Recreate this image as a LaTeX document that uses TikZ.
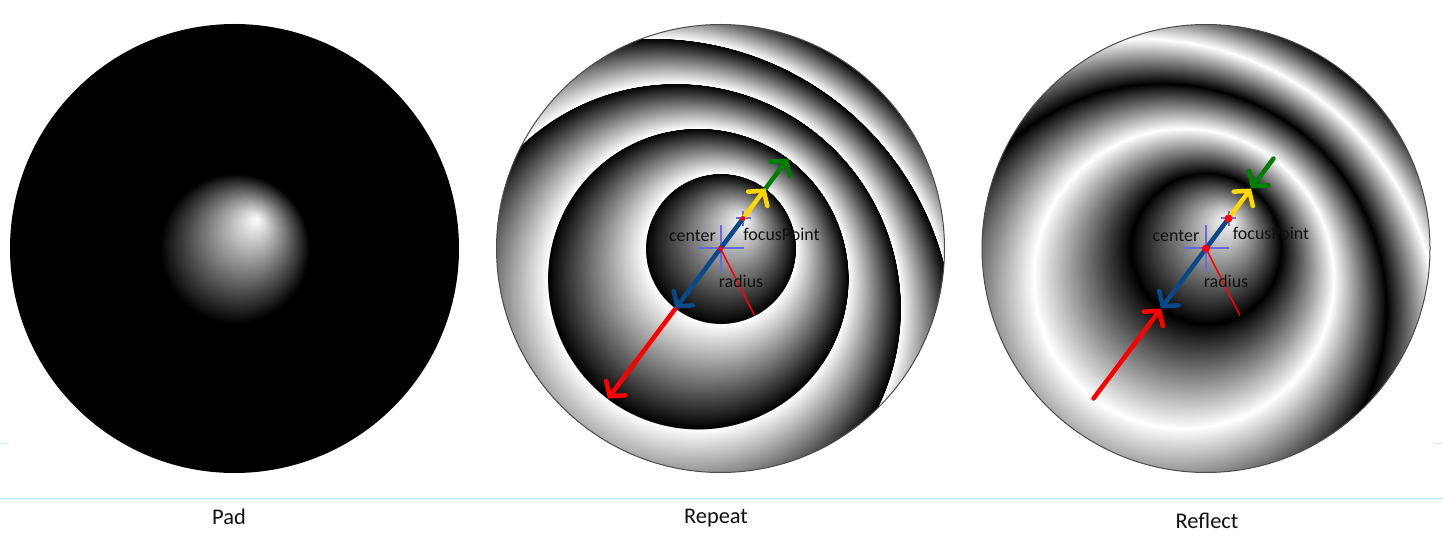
\documentclass[tikz,border=0pt]{standalone}
\usepackage{fontspec}
\setmainfont{Carlito}
\usetikzlibrary{calc,arrows.meta}

\definecolor{rayblue}{RGB}{10,72,140}
\definecolor{crossblue}{RGB}{105,105,225}
\definecolor{raygold}{RGB}{255,215,0}
\definecolor{raygreen}{RGB}{0,128,0}
\definecolor{rulecyan}{RGB}{178,226,248}
\definecolor{labeltext}{RGB}{17,17,17}

% focal gradients: radius 75bp, focus offset (22.5bp,30bp) from the centre
\pgfdeclareradialshading{padshade}{\pgfpoint{22.5bp}{30bp}}{color(0bp)=(white); color(75bp)=(black)}
\pgfdeclareradialshading{repeatshade}{\pgfpoint{135bp}{180bp}}{color(0bp)=(white); color(75bp)=(black);
  color(75.1bp)=(white); color(150bp)=(black); color(150.1bp)=(white); color(225bp)=(black);
  color(225.1bp)=(white); color(300bp)=(black); color(300.1bp)=(white); color(375bp)=(black);
  color(375.1bp)=(white); color(450bp)=(black)}
\pgfdeclareradialshading{reflectshade}{\pgfpoint{135bp}{180bp}}{color(0bp)=(white); color(75bp)=(black);
  color(150bp)=(white); color(225bp)=(black); color(300bp)=(white); color(375bp)=(black); color(450bp)=(white)}

\begin{document}
\begin{tikzpicture}[x=1bp,y=-1bp,
  every node/.style={text=labeltext, font=\fontsize{18}{20}\selectfont},
  caption/.style={font=\fontsize{22.5}{26}\selectfont},
  fillnode/.style={inner sep=0pt, outer sep=0pt},
  rim/.style={draw=black!70, line width=1bp},
  cross/.style={crossblue, line width=2bp},
  radiusline/.style={red, line width=1.5bp},
  ray/.style={line width=4.5bp, line cap=round, -{Straight Barb[length=10bp,width=24bp,line cap=round]}}]
  \useasboundingbox (0,0) rectangle (1443,544);

  % Pad
  \coordinate (c1) at (234.5,248.5);
  \fill[black] (c1) circle (224.5);
  \node[fillnode] (padfill) at (c1) {\pgfuseshading{padshade}};

  % Repeat
  \coordinate (c2) at (720.5,248.5);
  \coordinate (f2) at ($(c2)+(22.5,-30)$);
  \coordinate (a2) at ($(f2)!3!(c2)$);
  \coordinate (b2) at ($(f2)!6!(c2)$);
  \coordinate (u2) at ($(f2)!-1!(c2)$);
  \coordinate (v2) at ($(f2)!-2!(c2)$);
  \coordinate (r2) at ($(c2)+(34,67)$);
  \begin{scope}
    \clip (c2) circle (224);
    \node[fillnode] (repeatfill) at (b2) {\pgfuseshading{repeatshade}};
  \end{scope}
  \draw[rim] (c2) circle (224);
  \draw[cross] ($(c2)-(23,0)$) -- +(46,0) ($(c2)-(0,23)$) -- +(0,46);
  \draw[cross] ($(f2)-(7.5,0)$) -- +(15,0) ($(f2)-(0,7.5)$) -- +(0,15);
  \draw[radiusline] (c2) -- (r2);
  \node (center2) at ($(c2)+(-28,-13)$) {center};
  \node (focus2) at ($(c2)+(61,-14)$) {focusPoint};
  \node (radius2) at ($(c2)+(20.5,32.5)$) {radius};
  \draw[ray, red] (a2) -- (b2);
  \draw[ray, rayblue] (f2) -- (a2);
  \draw[ray, raygreen] (u2) -- (v2);
  \draw[ray, raygold] (f2) -- (u2);
  \fill[red] (c2) circle (2.5) (f2) circle (2.5);

  % Reflect
  \coordinate (c3) at (1206,248.5);
  \coordinate (f3) at ($(c3)+(22.5,-30)$);
  \coordinate (a3) at ($(f3)!3!(c3)$);
  \coordinate (b3) at ($(f3)!6!(c3)$);
  \coordinate (u3) at ($(f3)!-1!(c3)$);
  \coordinate (v3) at ($(f3)!-2!(c3)$);
  \coordinate (r3) at ($(c3)+(34,67)$);
  \begin{scope}
    \clip (c3) circle (224);
    \node[fillnode] (reflectfill) at (b3) {\pgfuseshading{reflectshade}};
  \end{scope}
  \draw[rim] (c3) circle (224);
  \draw[cross] ($(c3)-(23,0)$) -- +(46,0) ($(c3)-(0,23)$) -- +(0,46);
  \draw[cross] ($(f3)-(7.5,0)$) -- +(15,0) ($(f3)-(0,7.5)$) -- +(0,15);
  \draw[radiusline] (c3) -- (r3);
  \node (center3) at ($(c3)+(-30,-12.5)$) {center};
  \node (focus3) at ($(c3)+(65,-15)$) {focusPoint};
  \node (radius3) at ($(c3)+(20,32.5)$) {radius};
  \draw[ray, red] (b3) -- (a3);
  \draw[ray, rayblue] (f3) -- (a3);
  \draw[ray, raygreen] (v3) -- (u3);
  \draw[ray, raygold] (f3) -- (u3);
  \fill[red] (c3) circle (4) (f3) circle (4);

  % captions
  \draw[rulecyan, line width=1bp] (0,498) -- (1443,498);
  \draw[rulecyan!60, line width=1bp] (0,443) -- (9,443) (1434,443) -- (1443,443);
  \node[caption] (padlabel) at (229,517) {Pad};
  \node[caption] (repeatlabel) at (716,518) {Repeat};
  \node[caption] (reflectlabel) at (1207,521) {Reflect};
\end{tikzpicture}
\end{document}
